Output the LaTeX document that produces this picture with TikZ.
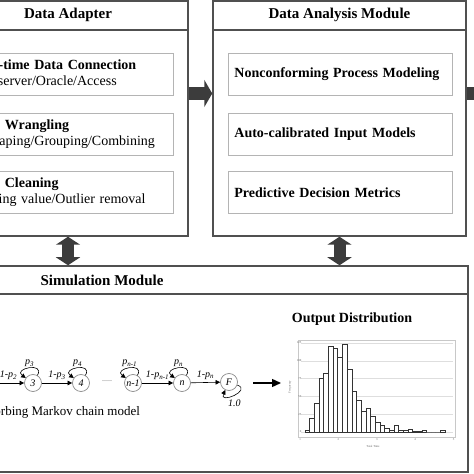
\documentclass[tikz,border=0pt]{standalone}
\usepackage{fontspec}
\setmainfont{Liberation Serif}
\usetikzlibrary{arrows.meta}
\definecolor{framegray}{HTML}{505050}
\definecolor{boxgray}{HTML}{B4B4B4}
\definecolor{arrowgray}{HTML}{3C3C3C}
\definecolor{stategray}{HTML}{8C8C8C}
\definecolor{histgray}{HTML}{C8C8C8}
\tikzset{
  every loop/.style={},
  outerbox/.style={draw=framegray, line width=1.5pt, inner sep=0pt},
  headline/.style={draw=framegray, line width=1.5pt},
  innerbox/.style={draw=boxgray, line width=0.8pt, inner xsep=6pt, inner ysep=0pt,
    minimum height=42pt, align=left, font=\fontsize{14}{16}\selectfont},
  modtitle/.style={font=\fontsize{15}{18}\selectfont\bfseries},
  bigarrow/.style={draw=arrowgray, line width=13pt, -{Triangle[length=8pt,width=27pt]}},
  dblarrow/.style={draw=arrowgray, line width=12pt,
    {Triangle[length=8pt,width=24pt]}-{Triangle[length=8pt,width=24pt]}},
  state/.style={circle, draw=stategray, line width=0.7pt, minimum size=17pt, inner sep=0pt,
    font=\fontsize{10}{10}\selectfont\itshape},
  edge/.style={-{Triangle[length=4.5pt,width=4.5pt]}, line width=0.6pt},
  elabel/.style={font=\fontsize{10}{10}\selectfont\itshape, inner sep=1pt},
  outarrow/.style={line width=1.4pt, -{Triangle[length=9pt,width=8pt]}},
  bar/.style={draw=black!80, line width=0.4pt, fill=white},
  gridline/.style={draw=histgray!60, line width=0.3pt},
  ticklabel/.style={font=\fontsize{3}{3}\selectfont, text=black!60, inner sep=0.5pt},
}
\begin{document}
\begin{tikzpicture}[x=1pt,y=1pt]
  \useasboundingbox (0,0) rectangle (474,474);
  \clip (0,0) rectangle (474,474);
  \fill[white] (0,0) rectangle (474,474);

  \node[outerbox, minimum width=240pt, minimum height=235pt] (da) at (68,355.5) {};
  \draw[headline] (da.west |- 0,444) -- (da.east |- 0,444);
  \node[modtitle] (datitle) at (68,459) {Data Adapter};
  \node[innerbox, text width=196pt, anchor=west] (dacon) at (-35,400)
    {\textbf{Real-time Data Connection}\\SQLserver/Oracle/Access};
  \node[innerbox, text width=196pt, anchor=west] (dawra) at (-35,339.5)
    {\textbf{Data Wrangling}\\Reshaping/Grouping/Combining};
  \node[innerbox, text width=196pt, anchor=west] (dacle) at (-35,281.5)
    {\textbf{Data Cleaning}\\Missing value/Outlier removal};

  \node[outerbox, minimum width=253pt, minimum height=235pt] (dam) at (339.5,355.5) {};
  \draw[headline] (dam.west |- 0,444) -- (dam.east |- 0,444);
  \node[modtitle] (damtitle) at (339.5,459) {Data Analysis Module};
  \node[innerbox, text width=212pt, anchor=west] (damnon) at (228,400)
    {\textbf{Nonconforming Process Modeling}};
  \node[innerbox, text width=212pt, anchor=west] (damauto) at (228,339.5)
    {\textbf{Auto-calibrated Input Models}};
  \node[innerbox, text width=212pt, anchor=west] (dampred) at (228,281.5)
    {\textbf{Predictive Decision Metrics}};

  \node[outerbox, minimum width=519pt, minimum height=206pt] (sim) at (208.5,105) {};
  \draw[headline] (sim.west |- 0,180) -- (sim.east |- 0,180);
  \node[modtitle] (simtitle) at (102,194) {Simulation Module};

  \draw[bigarrow] (da.east |- 0,380.5) -- (dam.west |- 0,380.5);
  \draw[bigarrow] (dam.east |- 0,380.5) -- ++(30,0);
  \draw[dblarrow] (da.south) -- (da.south |- sim.north);
  \draw[dblarrow] (dam.south) -- (dam.south |- sim.north);

  \coordinate (s2) at (-7,91);
  \node[state] (s3) at (33,91) {3};
  \node[state] (s4) at (81,91) {4};
  \node[font=\fontsize{8}{8}\selectfont, text=black!60] (dots) at (107,93) {.....};
  \node[state] (sn1) at (133,91) {n-1};
  \node[state] (sn) at (182,91) {n};
  \node[state] (sf) at (229,92) {F};
  \draw[edge] (s2) -- node[elabel, above=2pt] {1-p\textsubscript{2}} (s3);
  \draw[edge] (s3) -- node[elabel, above=2pt] {1-p\textsubscript{3}} (s4);
  \draw[edge] (sn1) -- node[elabel, above=2pt] {1-p\textsubscript{n-1}} (sn);
  \draw[edge] (sn) -- node[elabel, above=2pt] {1-p\textsubscript{n}} (sf);
  \draw[edge] (s3) to[out=60, in=145, min distance=16pt] node[elabel, above] {p\textsubscript{3}} (s3);
  \draw[edge] (s4) to[out=60, in=145, min distance=16pt] node[elabel, above] {p\textsubscript{4}} (s4);
  \draw[edge] (sn1) to[out=60, in=145, min distance=16pt] node[elabel, above] {p\textsubscript{n-1}} (sn1);
  \draw[edge] (sn) to[out=60, in=145, min distance=16pt] node[elabel, above] {p\textsubscript{n}} (sn);
  \draw[edge] (sf) to[out=-20, in=-115, min distance=16pt] node[elabel, below=4pt] {1.0} (sf);
  \node[font=\fontsize{13}{15}\selectfont, anchor=west] (mctitle) at (-30,62) {Absorbing Markov chain model};

  \coordinate (outs) at (253,91);
  \coordinate (oute) at (281,91);
  \draw[outarrow] (outs) -- (oute);
  \node[font=\fontsize{14}{16}\selectfont\bfseries] (outtitle) at (352,155) {Output Distribution};

  \node[draw=histgray, line width=0.6pt, minimum width=157pt, minimum height=97pt, inner sep=0pt] (hist) at (376.5,85.5) {};
  \foreach \v in {0,25,...,125} {
    \draw[gridline] (301,{42+\v*0.712}) -- (453,{42+\v*0.712});
    \node[ticklabel, anchor=east] at (302,{42+\v*0.712}) {\v};
  }
  \foreach \t [count=\k] in {1,...,5}
    \node[ticklabel] at ({300+(\k-1)*38.4},34) {\t};
  \foreach \h [count=\i] in {2,20,40,75,83,121,118,105,123,88,58,45,29,34,22,14,10,6,2,9,2,3,4,1,1,2,0,0,0,2}
    \draw[bar] ({305+(\i-1)*4.67},42) rectangle ({305+\i*4.67},{42+\h*0.712});
  \node[ticklabel] (histx) at (373,28) {Total Time};
  \node[ticklabel, rotate=90] (histy) at (290,87) {Frequency};
\end{tikzpicture}
\end{document}
